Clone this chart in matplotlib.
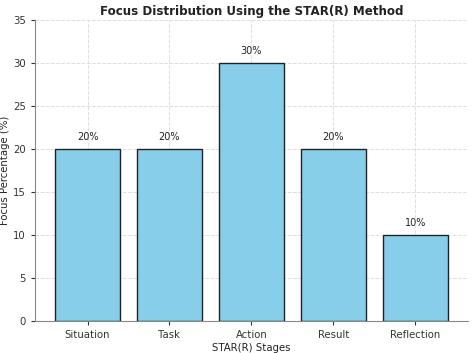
import matplotlib.pyplot as plt

stages = ["Situation", "Task", "Action", "Result", "Reflection"]
focus = [20, 20, 30, 20, 10]

plt.rcParams['font.family'] = 'DejaVu Sans'
fig, ax = plt.subplots(figsize=(4.74, 3.53), dpi=100)

bars = ax.bar(stages, focus, color='skyblue', edgecolor='#222222', linewidth=1.0)
for b, v in zip(bars, focus):
    ax.text(b.get_x() + b.get_width() / 2, v + 0.8, f"{v}%", ha='center', va='bottom',
            fontsize=7, color='#222222')

ax.set_ylim(0, 35)
ax.set_title("Focus Distribution Using the STAR(R) Method", fontsize=8.6, fontweight='bold',
             color='#222222', pad=4)
ax.set_xlabel("STAR(R) Stages", fontsize=7.3, color='#222222', labelpad=2)
ax.set_ylabel("Focus Percentage (%)", fontsize=7.3, color='#222222', labelpad=2)
ax.tick_params(labelsize=7.3, colors='#333333', length=3)
ax.grid(True, linestyle='--', color='#dddddd', linewidth=0.7)
ax.set_axisbelow(True)
for s in ['top', 'right']:
    ax.spines[s].set_visible(False)
for s in ['left', 'bottom']:
    ax.spines[s].set_color('#888888')

fig.subplots_adjust(left=0.074, right=0.987, top=0.943, bottom=0.09)
fig.savefig("out.png")
